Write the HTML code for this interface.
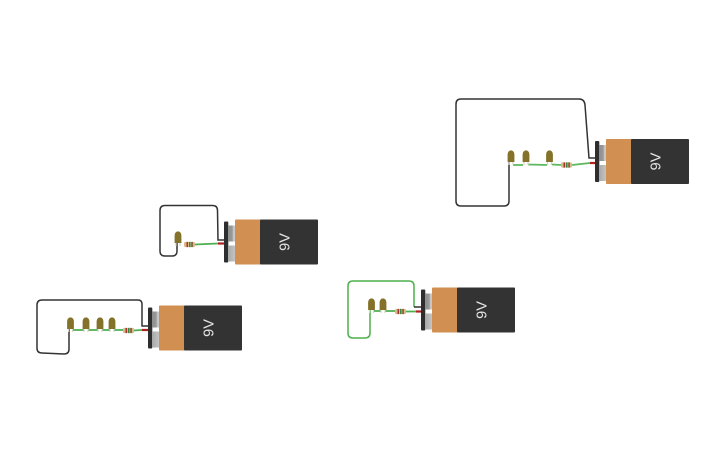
<!DOCTYPE html>
<html>
<head>
<meta charset="utf-8">
<style>
html,body{margin:0;padding:0;background:#fff}
svg{display:block}
text{font-family:"Liberation Sans",sans-serif;font-size:14.500px;fill:#e4e4e4}
</style>
</head>
<body>
<svg width="725" height="453" viewBox="0 0 725 453" xmlns="http://www.w3.org/2000/svg">
<defs>
<linearGradient id="t1" x1="0" x2="1" y1="0" y2="0"><stop offset="0" stop-color="#8f8f8f"/><stop offset=".65" stop-color="#999"/><stop offset=".7" stop-color="#c4c4c4"/><stop offset="1" stop-color="#c8c8c8"/></linearGradient>
<linearGradient id="t2" x1="0" x2="1" y1="0" y2="0"><stop offset="0" stop-color="#a8a8a8"/><stop offset="1" stop-color="#c4c4c4"/></linearGradient>
<g id="bat">
<rect x="595" y="141" width="4.300" height="41" rx="1" fill="#2e2e2e"/>
<rect x="599" y="145" width="7" height="16" fill="url(#t1)"/>
<rect x="599" y="165" width="7" height="16" fill="url(#t2)"/>
<rect x="606" y="139" width="26" height="45" rx="1" fill="#d18f52"/>
<rect x="631" y="139" width="58" height="45" rx="1" fill="#333333"/>
</g>
<g id="led">
<path d="M-2 5V9M2 5V9" stroke="#d4d4c8" stroke-width="1.200"/>
<path d="M-3.400 6V-1.800A3.400 3.800 0 0 1 3.400 -1.800V6Z" fill="#85722a"/>
</g>
<g id="res">
<rect x="0" y="-2.600" width="11" height="5.200" rx="1.500" fill="#dcb888"/>
<rect x="2.500" y="-2.600" width="1.500" height="5.200" fill="#a33"/>
<rect x="5" y="-2.600" width="1.500" height="5.200" fill="#384"/>
<rect x="7.300" y="-2.600" width="1.500" height="5.200" fill="#753"/>
</g>
</defs>

<!-- Circuit top right -->
<use href="#bat"/>
<text transform="translate(660.500,161.500) rotate(-90)" text-anchor="middle">9V</text>
<path d="M595 158H589L585 105Q584.500 99 579 99H461Q456 99 456 104V201Q456 206 461 206H504Q509 206 509 201V160" fill="none" stroke="#333" stroke-width="1.500"/>
<path d="M513 165H523M528 164.500L547 165M552 164.500L561 165M572 165L590 163" fill="none" stroke="#5cb85c" stroke-width="1.800"/>
<path d="M590 163H595" stroke="#b02020" stroke-width="2.200"/>
<use href="#led" x="511" y="156"/>
<use href="#led" x="526" y="156"/>
<use href="#led" x="549.500" y="156"/>
<use href="#res" x="561" y="165"/>

<!-- Circuit middle -->
<use href="#bat" x="-371" y="80.500"/>
<text transform="translate(289.500,242) rotate(-90)" text-anchor="middle">9V</text>
<path d="M224 240H218L217.500 210.500Q217.500 205.500 212.500 205.500H165Q160 205.500 160 210.500V251Q160 256 165 256H172Q177 256 177 251V241" fill="none" stroke="#333" stroke-width="1.500"/>
<path d="M195 244.500L218 243.500" fill="none" stroke="#4caf50" stroke-width="1.800"/>
<path d="M218 243.500H224" stroke="#b02020" stroke-width="2.200"/>
<use href="#led" x="178" y="237"/>
<use href="#res" x="184" y="244.500"/>

<!-- Circuit left -->
<use href="#bat" x="-447" y="166.500"/>
<text transform="translate(213.500,328) rotate(-90)" text-anchor="middle">9V</text>
<path d="M148 326H142L142 304Q142 300 138 300H42Q37 300 37 305V348Q37 353 42 353L64 354Q69 354 69 349V328" fill="none" stroke="#333" stroke-width="1.500"/>
<path d="M73 330H84M88 330H98M102 330H110M114 330H123M133 330.500L142 330" fill="none" stroke="#4caf50" stroke-width="1.800"/>
<path d="M142 330H148" stroke="#b02020" stroke-width="2.200"/>
<use href="#led" x="70.500" y="323"/>
<use href="#led" x="86" y="323"/>
<use href="#led" x="100" y="323"/>
<use href="#led" x="112" y="323"/>
<use href="#res" x="123" y="330.500"/>

<!-- Circuit centre -->
<use href="#bat" x="-174" y="148.500"/>
<text transform="translate(486.500,310) rotate(-90)" text-anchor="middle">9V</text>
<path d="M414 307V286Q414 281 409 281H353Q348 281 348 286V333Q348 338 353 338H365Q370 338 370 333V310" fill="none" stroke="#4fb04f" stroke-width="1.500"/>
<path d="M414 307H421" stroke="#333" stroke-width="1.500"/>
<path d="M374 311H381M385 311H395M406 311.500H416" fill="none" stroke="#4caf50" stroke-width="1.800"/>
<path d="M416 311.500H421" stroke="#b02020" stroke-width="2.200"/>
<use href="#led" x="371.500" y="304"/>
<use href="#led" x="383" y="304"/>
<use href="#res" x="395" y="311.500"/>
</svg>
</body>
</html>
